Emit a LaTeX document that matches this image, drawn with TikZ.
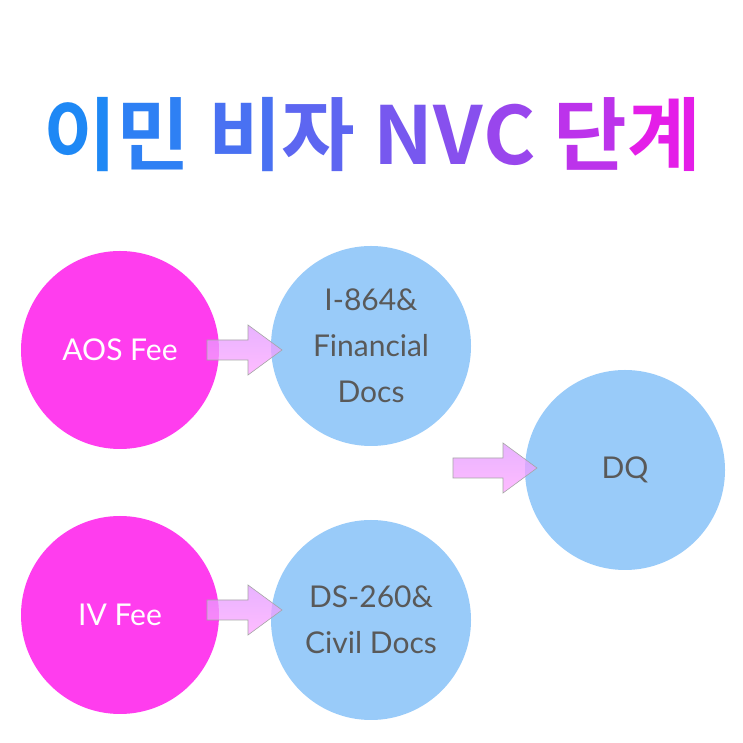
\documentclass[tikz,border=0pt]{standalone}
\usepackage{fontspec}
\setmainfont{Lato}
\newfontfamily\kr{Noto Sans CJK KR}[BoldFont=* Bold]
\definecolor{cA}{HTML}{1E88F5}
\definecolor{cB}{HTML}{E41EE8}
\definecolor{mag}{HTML}{FF3DEE}
\definecolor{lblue}{HTML}{99CBF9}
\tikzset{
 magc/.style={circle,fill=mag,minimum size=198pt,inner sep=0pt,text=white,font=\fontsize{30}{36}\selectfont,align=center},
 bluec/.style={circle,fill=lblue,minimum size=200pt,inner sep=0pt,text=black!65,font=\fontsize{30}{46}\selectfont,align=center},
 barrow/.style={draw=gray!70,line width=0.6pt,top color=blue!30!magenta!40!white,bottom color=magenta!35,fill opacity=0.75}
}
\newcommand{\gc}[2]{\textcolor{cB!#1!cA}{#2}}
\newcommand{\blockarrow}[4]{% name, x0, x1, y
 \coordinate (#1) at (#2,#4);
 \path[barrow] (#2,#4-10) -- ({#3-34},#4-10) -- ({#3-34},#4-25) -- (#3,#4) -- ({#3-34},#4+25) -- ({#3-34},#4+10) -- (#2,#4+10) -- cycle;}
\begin{document}
\begin{tikzpicture}[x=1pt,y=1pt]
\useasboundingbox (0,0) rectangle (743,743);
\fill[white] (0,0) rectangle (743,743);
\node (title) at (372,608) {\kr\bfseries\fontsize{80}{84}\selectfont
\gc{0}{이}\gc{8}{민} \gc{22}{비}\gc{32}{자} \gc{45}{N}\gc{53}{V}\gc{62}{C} \gc{80}{단}\gc{100}{계}};
\node[magc] (aos) at (120,393) {AOS Fee};
\node[bluec] (i864) at (371,397) {I-864\&\\Financial\\Docs};
\node[bluec] (dq) at (625,273) {DQ};
\node[magc] (iv) at (120,128) {IV Fee};
\node[bluec] (ds) at (371,123) {DS-260\&\\Civil Docs};
\blockarrow{a1}{207}{282}{393}
\blockarrow{a2}{453}{537}{275}
\blockarrow{a3}{207}{282}{133}
\end{tikzpicture}
\end{document}
